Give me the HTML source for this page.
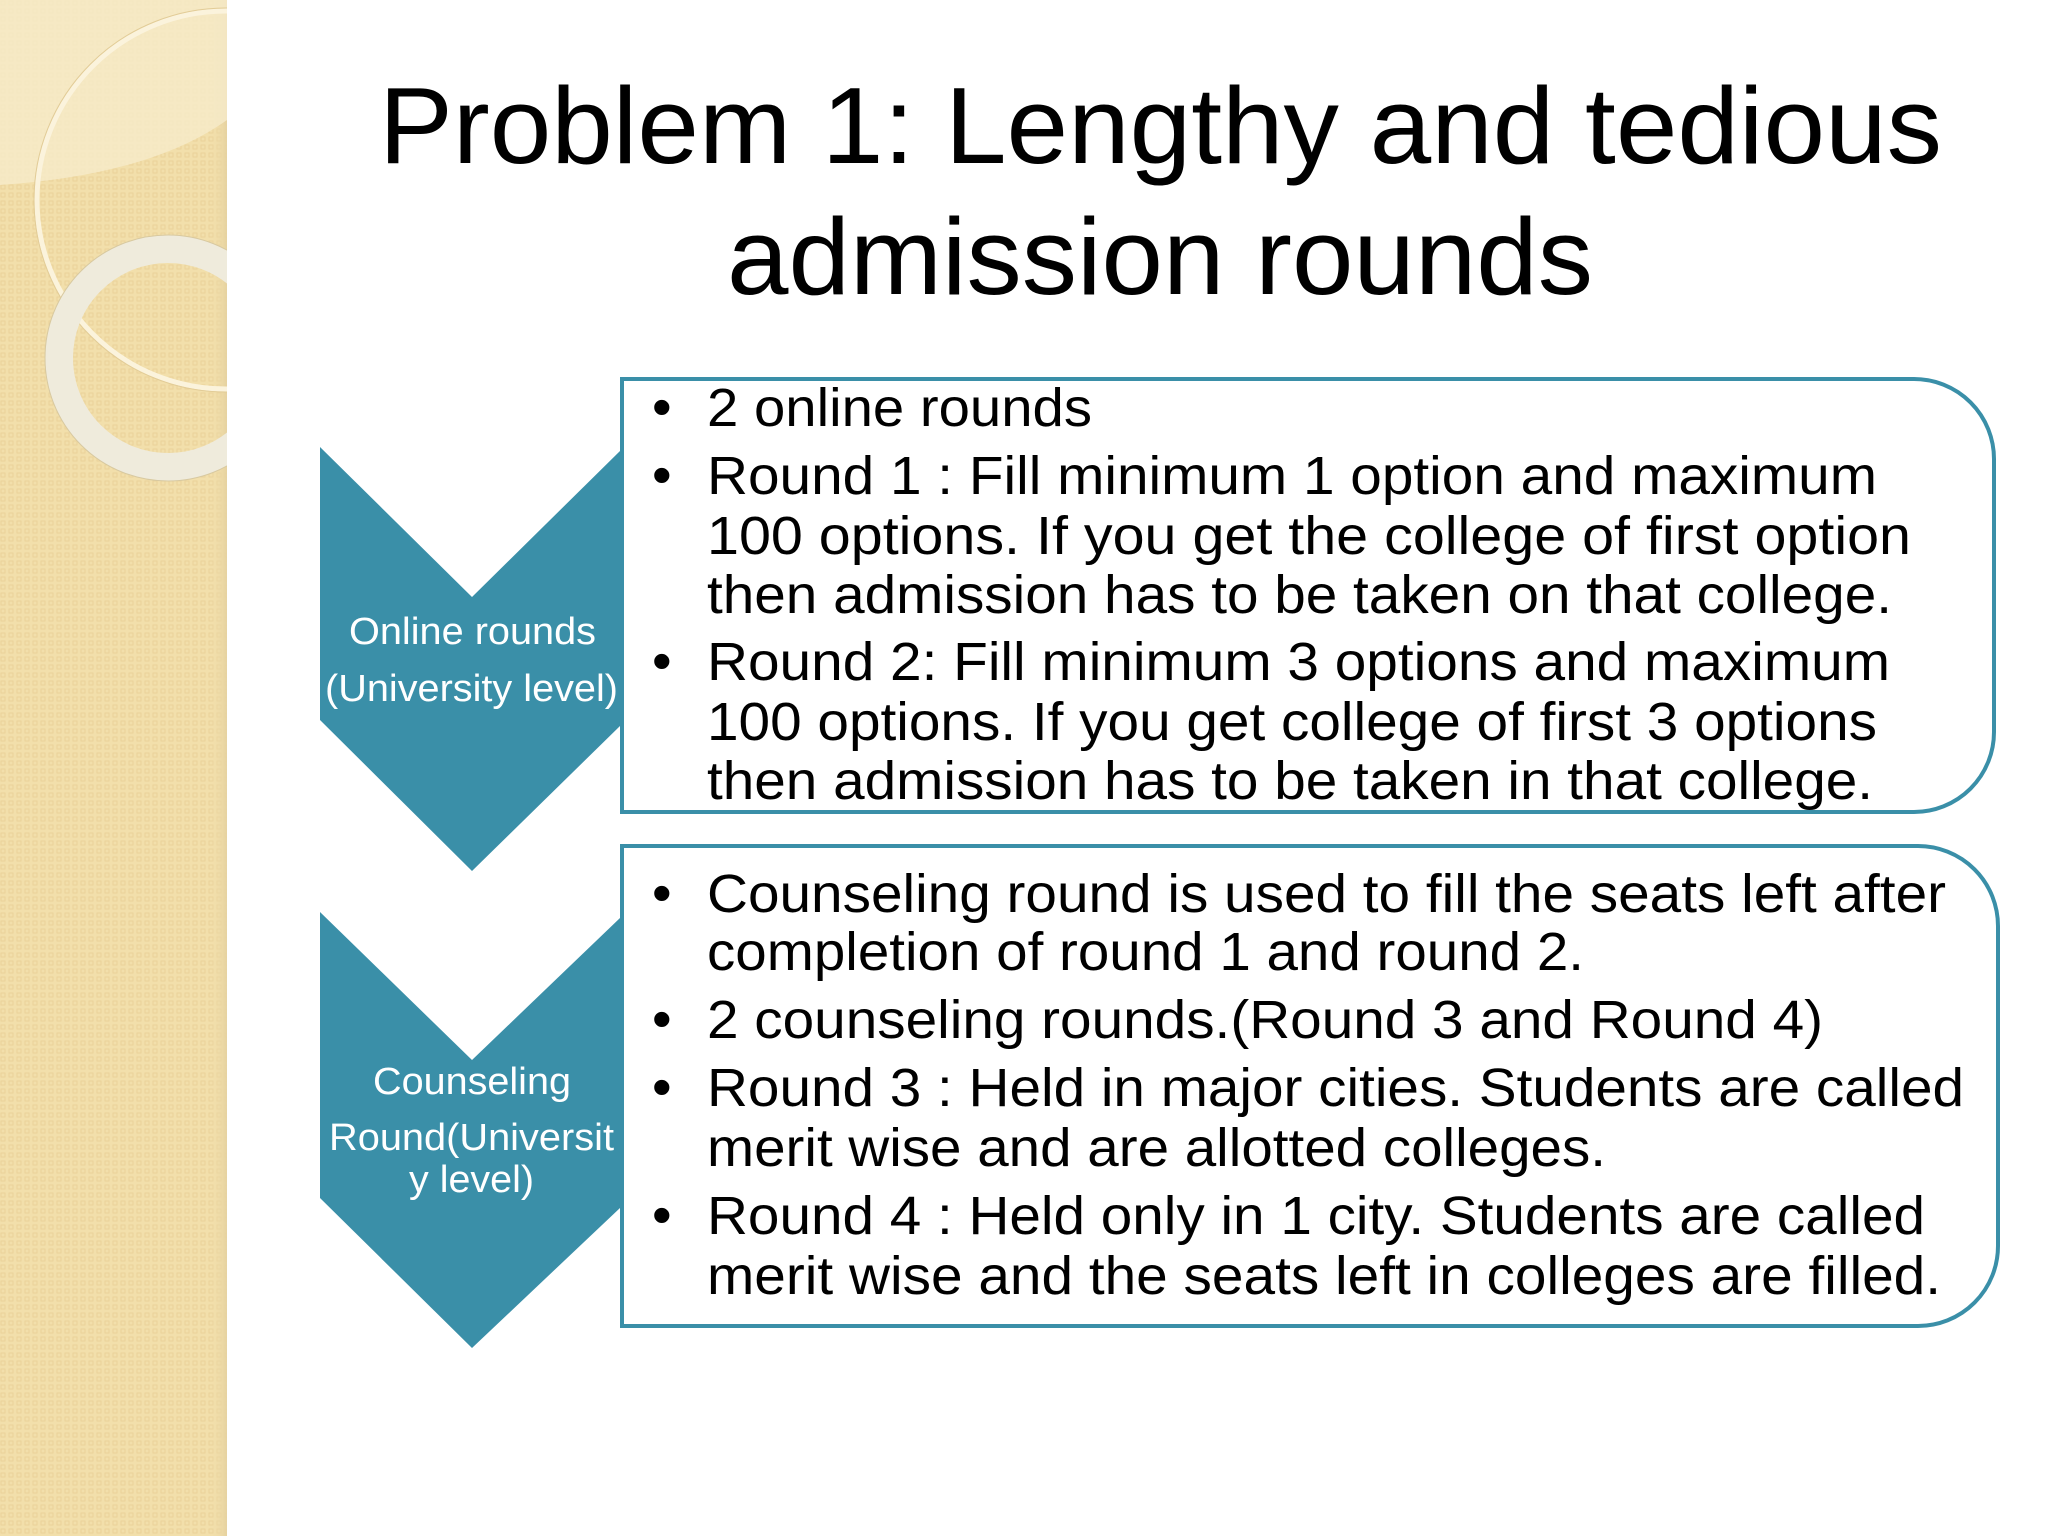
<!DOCTYPE html>
<html><head><meta charset="utf-8"><style>
html,body{margin:0;padding:0;background:#fff}
svg{display:block}
text{font-family:"Liberation Sans",Arial,sans-serif}
</style></head><body>
<svg width="2048" height="1536" viewBox="0 0 2048 1536" xmlns="http://www.w3.org/2000/svg">
<defs>
<pattern id="pt" width="8" height="8" patternUnits="userSpaceOnUse">
<rect width="8" height="8" fill="#f2dfab"/>
<rect x="1" y="1" width="4" height="4" fill="none" stroke="#ead29a" stroke-width="1"/>
</pattern>
<linearGradient id="edge" x1="0" x2="1"><stop offset="0" stop-color="#f2dfab" stop-opacity="0"/><stop offset="1" stop-color="#e6d2a0"/></linearGradient>
<clipPath id="sb"><rect x="0" y="0" width="227" height="1536"/></clipPath>
</defs>
<rect x="0" y="0" width="227" height="1536" fill="url(#pt)"/>
<rect x="210" y="0" width="17" height="1536" fill="url(#edge)"/>
<g clip-path="url(#sb)">
<path d="M0,0 L227,0 L227,120 Q150,175 0,185 Z" fill="#f6ebcb" opacity="0.8"/>
<circle cx="226" cy="200" r="189" fill="none" stroke="#fbf3dc" stroke-width="5"/>
<circle cx="226" cy="200" r="192" fill="none" stroke="#e2cc97" stroke-width="1"/>
<circle cx="168" cy="358" r="109" fill="none" stroke="#efebdc" stroke-width="28"/>
<circle cx="168" cy="358" r="123" fill="none" stroke="#d8c9a0" stroke-width="1"/>
</g>
<text x="379" y="163" font-size="109" fill="#000" textLength="1563" lengthAdjust="spacingAndGlyphs">Problem 1: Lengthy and tedious</text>
<text x="727" y="294" font-size="109" fill="#000" textLength="866" lengthAdjust="spacingAndGlyphs">admission rounds</text>

<polygon points="320,447 472,597 620,451 620,726 472,871 320,720" fill="#3a8fa8"/>
<polygon points="320,912 472,1060 620,918 620,1208 472,1348 320,1198" fill="#3a8fa8"/>
<g fill="#fff" font-size="38">
<text x="349" y="644" textLength="247" lengthAdjust="spacingAndGlyphs">Online rounds</text>
<text x="325" y="701" textLength="293" lengthAdjust="spacingAndGlyphs">(University level)</text>
<text x="373" y="1094" textLength="198" lengthAdjust="spacingAndGlyphs">Counseling</text>
<text x="329" y="1150" textLength="285" lengthAdjust="spacingAndGlyphs">Round(Universit</text>
<text x="409" y="1192" textLength="125" lengthAdjust="spacingAndGlyphs">y level)</text>
</g>

<path d="M622,379 H1914 A80,80 0 0 1 1994,459 V732 A80,80 0 0 1 1914,812 H622 Z" fill="#fff" stroke="#3a8fa8" stroke-width="4"/>
<path d="M622,846 H1918 A80,80 0 0 1 1998,926 V1246 A80,80 0 0 1 1918,1326 H622 Z" fill="#fff" stroke="#3a8fa8" stroke-width="4"/>

<g fill="#000" font-size="54">
<g font-size="56"><text x="652" y="426">•</text><text x="652" y="494">•</text><text x="652" y="680">•</text>
<text x="652" y="912">•</text><text x="652" y="1038">•</text><text x="652" y="1106">•</text><text x="652" y="1234">•</text></g>
<text x="707" y="426" textLength="385" lengthAdjust="spacingAndGlyphs">2 online rounds</text>
<text x="707" y="494" textLength="1170" lengthAdjust="spacingAndGlyphs">Round 1 : Fill minimum 1 option and maximum</text>
<text x="707" y="554" textLength="1204" lengthAdjust="spacingAndGlyphs">100 options. If you get the college of  first option</text>
<text x="707" y="613" textLength="1185" lengthAdjust="spacingAndGlyphs">then admission has to be taken on that college.</text>
<text x="707" y="680" textLength="1183" lengthAdjust="spacingAndGlyphs">Round 2: Fill minimum 3 options and maximum</text>
<text x="707" y="740" textLength="1170" lengthAdjust="spacingAndGlyphs">100 options. If you get college of first 3 options</text>
<text x="707" y="799" textLength="1166" lengthAdjust="spacingAndGlyphs">then admission has to be taken in that college.</text>
<text x="707" y="912" textLength="1239" lengthAdjust="spacingAndGlyphs">Counseling round is used to fill the seats left after</text>
<text x="707" y="970" textLength="877" lengthAdjust="spacingAndGlyphs">completion of round 1 and round 2.</text>
<text x="707" y="1038" textLength="1116" lengthAdjust="spacingAndGlyphs">2 counseling rounds.(Round 3 and Round 4)</text>
<text x="707" y="1106" textLength="1257" lengthAdjust="spacingAndGlyphs">Round 3 : Held in major cities. Students are called</text>
<text x="707" y="1166" textLength="899" lengthAdjust="spacingAndGlyphs">merit wise and are allotted colleges.</text>
<text x="707" y="1234" textLength="1218" lengthAdjust="spacingAndGlyphs">Round 4 : Held only in 1 city. Students are called</text>
<text x="707" y="1294" textLength="1234" lengthAdjust="spacingAndGlyphs">merit wise and the seats left in colleges are filled.</text>
</g>
</svg>
</body></html>
